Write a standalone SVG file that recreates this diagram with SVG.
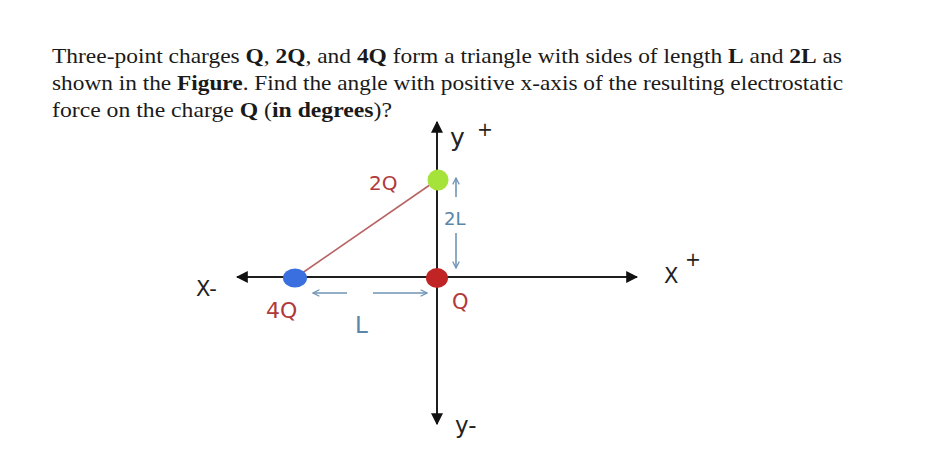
<svg xmlns="http://www.w3.org/2000/svg" width="933" height="468" viewBox="0 0 933 468">
<style>
.q{font-family:"Liberation Serif","Times New Roman",serif;font-size:21px;fill:#1a1a1a}
.b{font-weight:bold}
.hw{font-family:"DejaVu Sans","Liberation Sans",sans-serif;fill:#222}
.red{fill:#b03a3a}
.blu{fill:#5a85a8}
.ax{stroke:#1e1e1e;stroke-width:2;fill:none}
.dim{stroke:#6f95b5;stroke-width:1.6;fill:none}
</style>
<defs>
<marker id="ah2" viewBox="0 0 10 10" refX="9" refY="5" markerWidth="12" markerHeight="12" orient="auto" markerUnits="userSpaceOnUse">
<path d="M0,0 L10,5 L0,10 z" fill="#111"/>
</marker>
<marker id="da" viewBox="0 0 10 10" refX="9" refY="5" markerWidth="8" markerHeight="8" orient="auto" markerUnits="userSpaceOnUse">
<path d="M1,1 L9,5 L1,9" fill="none" stroke="#6f95b5" stroke-width="1.6"/>
</marker>
</defs>
<rect width="933" height="468" fill="#fff"/>
<g id="question">
<text class="q" x="52" y="63" textLength="790" lengthAdjust="spacingAndGlyphs">Three-point charges <tspan class="b">Q</tspan>, <tspan class="b">2Q</tspan>, and <tspan class="b">4Q</tspan> form a triangle with sides of length <tspan class="b">L</tspan> and <tspan class="b">2L</tspan> as</text>
<text class="q" x="52" y="90" textLength="791" lengthAdjust="spacingAndGlyphs">shown in the <tspan class="b">Figure</tspan>. Find the angle with positive x-axis of the resulting electrostatic</text>
<text class="q" x="52" y="117" textLength="340" lengthAdjust="spacingAndGlyphs">force on the charge <tspan class="b">Q</tspan> (<tspan class="b">in degrees</tspan>)?</text>
</g>
<g id="connectors">
<line class="ax" x1="437" y1="277" x2="237" y2="277" marker-end="url(#ah2)"/>
<line class="ax" x1="437" y1="277" x2="637" y2="277" marker-end="url(#ah2)"/>
<line class="ax" x1="437" y1="277" x2="437" y2="122" marker-end="url(#ah2)"/>
<line class="ax" x1="437" y1="277" x2="437" y2="424" marker-end="url(#ah2)"/>
<line x1="295" y1="278" x2="437" y2="180" stroke="#b86464" stroke-width="1.6"/>
<line class="dim" x1="347" y1="293" x2="313" y2="293" marker-end="url(#da)"/>
<line class="dim" x1="373" y1="293" x2="427" y2="293" marker-end="url(#da)"/>
<line class="dim" x1="456" y1="197" x2="456" y2="178" marker-end="url(#da)"/>
<line class="dim" x1="456" y1="233" x2="456" y2="268" marker-end="url(#da)"/>
</g>
<g id="charge-4Q">
<ellipse cx="295" cy="278" rx="12" ry="9.5" fill="#3a6fe0"/>
<text class="hw red" x="266" y="318" font-size="22">4Q</text>
</g>
<g id="charge-2Q">
<circle cx="438" cy="180" r="10.5" fill="#a6e33a"/>
<text class="hw red" x="369" y="190" font-size="20">2Q</text>
</g>
<g id="charge-Q">
<ellipse cx="437" cy="278" rx="11" ry="10" fill="#c02424"/>
<text class="hw red" x="452" y="309" font-size="21">Q</text>
</g>
<g id="labels">
<text class="hw" x="196" y="296" font-size="21">X-</text>
<text class="hw" x="664" y="283" font-size="21">X</text>
<text class="hw" x="685" y="266" font-size="19">+</text>
<text class="hw" x="450" y="146" font-size="25">y</text>
<text class="hw" x="477" y="136" font-size="19">+</text>
<text class="hw" x="455" y="433" font-size="23">y-</text>
<text class="hw blu" x="444" y="225" font-size="18">2L</text>
<text class="hw blu" x="355" y="333" font-size="23">L</text>
</g>
</svg>
